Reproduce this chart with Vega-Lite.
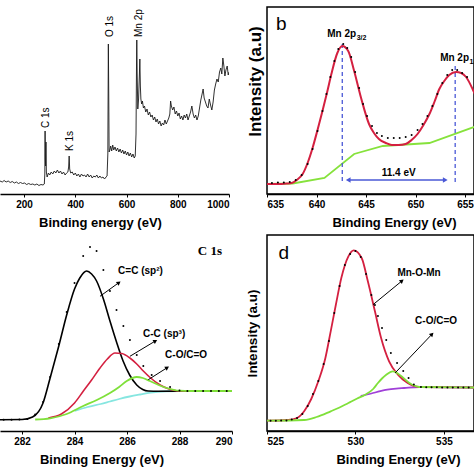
{
  "$schema": "https://vega.github.io/schema/vega-lite/v6.json",
  "autosize": {"type": "pad"},
  "padding": {"left": 0, "top": 6, "right": 0, "bottom": 0},
  "background": "white",
  "bounds": "flush",
  "columns": 2,
  "spacing": {"row": 41, "column": 35},
  "config": {
    "view": {"stroke": null},
    "font": "Liberation Sans",
    "axis": {
      "grid": false,
      "domainColor": "black",
      "domainWidth": 1.5,
      "tickColor": "black",
      "tickSize": 3,
      "labelFont": "Liberation Sans",
      "labelFontWeight": "bold",
      "labelFontSize": 10,
      "labelColor": "black",
      "labelPadding": 2,
      "titleFont": "Liberation Sans",
      "titleFontWeight": "bold",
      "titleFontSize": 13,
      "titleColor": "black",
      "titlePadding": 7
    },
    "text": {"font": "Liberation Sans", "color": "black"}
  },
  "datasets": {
    "aLine": [
      {"E": 106, "I": 13}, {"E": 115, "I": 12}, {"E": 122, "I": 13.5}, {"E": 130, "I": 12}, {"E": 138, "I": 13}, {"E": 146, "I": 11.5},
      {"E": 154, "I": 12.5}, {"E": 162, "I": 11}, {"E": 170, "I": 12}, {"E": 178, "I": 10.5}, {"E": 186, "I": 11.5}, {"E": 194, "I": 10.5},
      {"E": 202, "I": 11}, {"E": 210, "I": 9.5}, {"E": 218, "I": 10.5}, {"E": 226, "I": 9.5}, {"E": 234, "I": 10}, {"E": 242, "I": 9},
      {"E": 250, "I": 10}, {"E": 258, "I": 8.5}, {"E": 266, "I": 9.5}, {"E": 274, "I": 9}, {"E": 279, "I": 10}, {"E": 281, "I": 20},
      {"E": 282, "I": 63}, {"E": 283, "I": 35}, {"E": 284, "I": 28}, {"E": 285.5, "I": 52}, {"E": 287, "I": 22}, {"E": 290, "I": 17},
      {"E": 295, "I": 21}, {"E": 300, "I": 19}, {"E": 306, "I": 22}, {"E": 312, "I": 20}, {"E": 318, "I": 23}, {"E": 324, "I": 21},
      {"E": 330, "I": 24}, {"E": 336, "I": 21}, {"E": 342, "I": 23}, {"E": 348, "I": 20}, {"E": 354, "I": 22}, {"E": 360, "I": 19},
      {"E": 366, "I": 21}, {"E": 371, "I": 22}, {"E": 374, "I": 27}, {"E": 376, "I": 38}, {"E": 378, "I": 25}, {"E": 382, "I": 21},
      {"E": 388, "I": 22}, {"E": 394, "I": 19}, {"E": 400, "I": 21}, {"E": 406, "I": 18}, {"E": 412, "I": 20}, {"E": 418, "I": 17},
      {"E": 424, "I": 20}, {"E": 430, "I": 18}, {"E": 436, "I": 19}, {"E": 442, "I": 17}, {"E": 448, "I": 20}, {"E": 454, "I": 17},
      {"E": 460, "I": 19}, {"E": 466, "I": 16}, {"E": 472, "I": 18}, {"E": 478, "I": 17}, {"E": 484, "I": 19}, {"E": 490, "I": 16},
      {"E": 496, "I": 18}, {"E": 502, "I": 16}, {"E": 508, "I": 17}, {"E": 514, "I": 15}, {"E": 520, "I": 17}, {"E": 524, "I": 18},
      {"E": 527, "I": 40}, {"E": 529, "I": 150}, {"E": 530.5, "I": 100}, {"E": 532, "I": 42}, {"E": 535, "I": 44}, {"E": 538, "I": 48},
      {"E": 542, "I": 43}, {"E": 546, "I": 49}, {"E": 550, "I": 44}, {"E": 555, "I": 47}, {"E": 560, "I": 43}, {"E": 565, "I": 46},
      {"E": 570, "I": 42}, {"E": 575, "I": 45}, {"E": 580, "I": 41}, {"E": 585, "I": 44}, {"E": 590, "I": 40}, {"E": 595, "I": 43},
      {"E": 600, "I": 39}, {"E": 605, "I": 42}, {"E": 610, "I": 38}, {"E": 615, "I": 41}, {"E": 620, "I": 37}, {"E": 625, "I": 40},
      {"E": 630, "I": 36}, {"E": 634, "I": 38}, {"E": 637, "I": 60}, {"E": 639, "I": 130}, {"E": 640, "I": 154}, {"E": 641.5, "I": 120},
      {"E": 644, "I": 85}, {"E": 647, "I": 95}, {"E": 650, "I": 118}, {"E": 652, "I": 135}, {"E": 654, "I": 108}, {"E": 656, "I": 95},
      {"E": 659, "I": 90}, {"E": 662, "I": 93}, {"E": 666, "I": 86}, {"E": 670, "I": 88}, {"E": 675, "I": 82}, {"E": 680, "I": 85},
      {"E": 685, "I": 79}, {"E": 690, "I": 82}, {"E": 695, "I": 77}, {"E": 700, "I": 79}, {"E": 705, "I": 74}, {"E": 710, "I": 77},
      {"E": 715, "I": 72}, {"E": 720, "I": 75}, {"E": 725, "I": 70}, {"E": 730, "I": 73}, {"E": 735, "I": 68}, {"E": 740, "I": 71},
      {"E": 745, "I": 69}, {"E": 750, "I": 74}, {"E": 755, "I": 70}, {"E": 760, "I": 73}, {"E": 765, "I": 76}, {"E": 769, "I": 80},
      {"E": 772, "I": 93}, {"E": 775, "I": 88}, {"E": 780, "I": 84}, {"E": 785, "I": 87}, {"E": 790, "I": 80}, {"E": 795, "I": 83},
      {"E": 800, "I": 78}, {"E": 805, "I": 81}, {"E": 810, "I": 75}, {"E": 815, "I": 78}, {"E": 820, "I": 74}, {"E": 825, "I": 79},
      {"E": 830, "I": 76}, {"E": 835, "I": 80}, {"E": 840, "I": 74}, {"E": 845, "I": 78}, {"E": 850, "I": 82}, {"E": 855, "I": 88},
      {"E": 860, "I": 80}, {"E": 865, "I": 76}, {"E": 870, "I": 79}, {"E": 875, "I": 74}, {"E": 880, "I": 78}, {"E": 885, "I": 86},
      {"E": 890, "I": 94}, {"E": 895, "I": 100}, {"E": 899, "I": 105}, {"E": 903, "I": 96}, {"E": 908, "I": 92}, {"E": 913, "I": 88},
      {"E": 918, "I": 86}, {"E": 923, "I": 95}, {"E": 928, "I": 89}, {"E": 933, "I": 84}, {"E": 938, "I": 92}, {"E": 943, "I": 104},
      {"E": 948, "I": 110}, {"E": 953, "I": 115}, {"E": 958, "I": 112}, {"E": 963, "I": 122}, {"E": 968, "I": 126}, {"E": 972, "I": 120},
      {"E": 976, "I": 136}, {"E": 980, "I": 128}, {"E": 984, "I": 118}, {"E": 988, "I": 124}, {"E": 993, "I": 128}, {"E": 997, "I": 119},
      {"E": 1000, "I": 122}
    ],
    "aLabels": [
      {"E": 284, "I": 66, "t": "C 1s"},
      {"E": 380, "I": 43, "t": "K 1s"},
      {"E": 534, "I": 157, "t": "O 1s"},
      {"E": 649, "I": 157, "t": "Mn 2p"}
    ],
    "bFit": [
      {"E": 635.0, "I": 10}, {"E": 636.0, "I": 10}, {"E": 637.0, "I": 10.5}, {"E": 637.5, "I": 11}, {"E": 638.0, "I": 14},
      {"E": 638.6, "I": 20}, {"E": 639.1, "I": 31}, {"E": 639.6, "I": 46}, {"E": 640.1, "I": 64}, {"E": 640.6, "I": 83},
      {"E": 641.1, "I": 103}, {"E": 641.5, "I": 120}, {"E": 642.1, "I": 141}, {"E": 642.6, "I": 148}, {"E": 643.2, "I": 143},
      {"E": 643.8, "I": 123}, {"E": 644.5, "I": 96}, {"E": 645.3, "I": 70}, {"E": 645.8, "I": 61}, {"E": 646.3, "I": 55},
      {"E": 647.0, "I": 51}, {"E": 647.6, "I": 49}, {"E": 648.3, "I": 49}, {"E": 649.0, "I": 50}, {"E": 649.6, "I": 54},
      {"E": 650.2, "I": 60}, {"E": 650.8, "I": 69}, {"E": 651.4, "I": 80}, {"E": 651.9, "I": 92}, {"E": 652.4, "I": 105},
      {"E": 652.9, "I": 113}, {"E": 653.4, "I": 119}, {"E": 654.1, "I": 122}, {"E": 654.6, "I": 121}, {"E": 655.1, "I": 117},
      {"E": 655.8, "I": 104}, {"E": 656.2, "I": 95}
    ],
    "bBg": [
      {"E": 635.0, "I": 10}, {"E": 637.6, "I": 10.5}, {"E": 640.8, "I": 16}, {"E": 643.8, "I": 40}, {"E": 646.7, "I": 48},
      {"E": 651.4, "I": 51}, {"E": 656.2, "I": 68}
    ],
    "bDots": [
      {"E": 635.5, "I": 11}, {"E": 636.1, "I": 11.5}, {"E": 636.7, "I": 11.5}, {"E": 637.3, "I": 12}, {"E": 637.9, "I": 14},
      {"E": 638.5, "I": 19}, {"E": 639.1, "I": 30}, {"E": 639.6, "I": 45}, {"E": 640.1, "I": 63}, {"E": 640.6, "I": 83},
      {"E": 641.0, "I": 100}, {"E": 641.4, "I": 117}, {"E": 641.8, "I": 133}, {"E": 642.2, "I": 145}, {"E": 642.7, "I": 150},
      {"E": 643.1, "I": 146}, {"E": 643.5, "I": 137}, {"E": 643.9, "I": 122}, {"E": 644.3, "I": 106}, {"E": 644.7, "I": 90},
      {"E": 645.1, "I": 78}, {"E": 645.6, "I": 68}, {"E": 646.1, "I": 61}, {"E": 646.6, "I": 58}, {"E": 647.2, "I": 56},
      {"E": 647.8, "I": 56}, {"E": 648.4, "I": 56}, {"E": 649.0, "I": 57}, {"E": 649.6, "I": 59}, {"E": 650.2, "I": 64},
      {"E": 650.7, "I": 70}, {"E": 651.2, "I": 78}, {"E": 651.7, "I": 88}, {"E": 652.2, "I": 100}, {"E": 652.7, "I": 111},
      {"E": 653.2, "I": 119}, {"E": 653.7, "I": 124}, {"E": 654.2, "I": 124}, {"E": 654.7, "I": 121}, {"E": 655.2, "I": 117}
    ],
    "bDash": [
      {"E": 642.6, "I": 150, "I2": 10.3},
      {"E": 654.0, "I": 128, "I2": 10.3}
    ],
    "bArrow": [
      {"E": 643.2, "E2": 653.0, "I": 14}
    ],
    "bText": [
      {"k": "b", "E": 635.9, "I": 170, "t": "b"},
      {"k": "m1", "E": 644.0, "I": 160, "t": "Mn 2p"},
      {"k": "s1", "E": 644.05, "I": 156.5, "t": "3/2"},
      {"k": "m2", "E": 655.4, "I": 136, "t": "Mn 2p"},
      {"k": "s2", "E": 655.45, "I": 132.5, "t": "1/2"},
      {"k": "ev", "E": 648.3, "I": 21, "t": "11.4 eV"}
    ],
    "cBlack": [
      {"E": 281.16, "I": 11.3}, {"E": 282.0, "I": 11.5}, {"E": 282.4, "I": 14}, {"E": 282.8, "I": 28}, {"E": 283.07, "I": 53},
      {"E": 283.4, "I": 85}, {"E": 283.7, "I": 116}, {"E": 284.0, "I": 142}, {"E": 284.2, "I": 153}, {"E": 284.46, "I": 160},
      {"E": 284.65, "I": 157}, {"E": 284.84, "I": 150}, {"E": 285.1, "I": 132}, {"E": 285.35, "I": 110}, {"E": 285.6, "I": 89},
      {"E": 285.85, "I": 70}, {"E": 286.1, "I": 56}, {"E": 286.37, "I": 46}, {"E": 286.6, "I": 41.5}, {"E": 286.8, "I": 40},
      {"E": 287.2, "I": 39.8}, {"E": 290, "I": 40}
    ],
    "cRed": [
      {"E": 283.0, "I": 13}, {"E": 283.5, "I": 17}, {"E": 284.0, "I": 28}, {"E": 284.33, "I": 39.7}, {"E": 284.65, "I": 51},
      {"E": 284.97, "I": 63}, {"E": 285.25, "I": 72}, {"E": 285.54, "I": 78}, {"E": 285.8, "I": 77.5}, {"E": 286.11, "I": 73},
      {"E": 286.37, "I": 67}, {"E": 286.62, "I": 60}, {"E": 286.9, "I": 53}, {"E": 287.26, "I": 46}, {"E": 287.6, "I": 42},
      {"E": 287.89, "I": 40.3}, {"E": 288.3, "I": 40}, {"E": 290, "I": 40}
    ],
    "cGreen": [
      {"E": 282.5, "I": 11.5}, {"E": 283.07, "I": 12.7}, {"E": 283.7, "I": 17}, {"E": 284.33, "I": 25}, {"E": 284.85, "I": 31},
      {"E": 285.35, "I": 38}, {"E": 285.7, "I": 44}, {"E": 285.99, "I": 50}, {"E": 286.37, "I": 54}, {"E": 286.6, "I": 53},
      {"E": 286.87, "I": 50}, {"E": 287.2, "I": 46}, {"E": 287.51, "I": 43}, {"E": 288.0, "I": 40.3}, {"E": 288.4, "I": 40},
      {"E": 290, "I": 40}
    ],
    "cBg": [
      {"E": 284.0, "I": 20}, {"E": 284.5, "I": 24}, {"E": 285.0, "I": 27}, {"E": 285.35, "I": 29.5}, {"E": 285.7, "I": 32},
      {"E": 286.1, "I": 34.5}, {"E": 286.5, "I": 36.5}, {"E": 286.9, "I": 38.3}, {"E": 287.5, "I": 39.7}, {"E": 288.0, "I": 40},
      {"E": 290, "I": 40}
    ],
    "cDots": [
      {"E": 281.3, "I": 11.3}, {"E": 281.6, "I": 11.3}, {"E": 281.9, "I": 11.4}, {"E": 282.2, "I": 12}, {"E": 282.5, "I": 16.5},
      {"E": 282.8, "I": 29}, {"E": 283.07, "I": 54}, {"E": 283.4, "I": 87}, {"E": 283.7, "I": 119}, {"E": 284.0, "I": 148},
      {"E": 284.33, "I": 175}, {"E": 284.59, "I": 184}, {"E": 284.84, "I": 180}, {"E": 285.1, "I": 161}, {"E": 285.35, "I": 140},
      {"E": 285.6, "I": 121}, {"E": 285.86, "I": 105}, {"E": 286.11, "I": 91}, {"E": 286.37, "I": 76}, {"E": 286.62, "I": 65},
      {"E": 286.94, "I": 56}, {"E": 287.26, "I": 50}, {"E": 287.64, "I": 44}, {"E": 288.0, "I": 40.5}, {"E": 288.3, "I": 40},
      {"E": 288.6, "I": 40}, {"E": 288.9, "I": 40}, {"E": 289.2, "I": 40}, {"E": 289.5, "I": 40}, {"E": 289.8, "I": 40}
    ],
    "cArrows": [
      {"k": "cc", "E": 284.97, "I": 134.7, "E2": 285.67, "I2": 148},
      {"k": "ccs", "E": 286.11, "I": 74.7, "E2": 287.06, "I2": 89.7},
      {"k": "co", "E": 286.81, "I": 51.3, "E2": 287.51, "I2": 63}
    ],
    "cText": [
      {"k": "l", "E": 285.66, "I": 160, "t": "C=C (sp²)"},
      {"k": "l", "E": 286.61, "I": 97, "t": "C-C (sp³)"},
      {"k": "l", "E": 287.45, "I": 76.3, "t": "C-O/C=O"},
      {"k": "h", "E": 289.62, "I": 180, "t": "C 1s"}
    ],
    "dRed": [
      {"E": 525.0, "I": 10.3}, {"E": 526.2, "I": 11}, {"E": 526.7, "I": 13}, {"E": 527.1, "I": 19.7}, {"E": 527.5, "I": 32},
      {"E": 527.9, "I": 49.7}, {"E": 528.3, "I": 73}, {"E": 528.6, "I": 99.7}, {"E": 528.9, "I": 127}, {"E": 529.2, "I": 153},
      {"E": 529.6, "I": 174.7}, {"E": 529.9, "I": 180.7}, {"E": 530.35, "I": 173}, {"E": 530.7, "I": 149.7}, {"E": 531.1, "I": 119.7},
      {"E": 531.45, "I": 93}, {"E": 531.9, "I": 69.7}, {"E": 532.4, "I": 56.3}, {"E": 532.95, "I": 48}, {"E": 533.6, "I": 44},
      {"E": 536.8, "I": 43.5}
    ],
    "dGreen": [
      {"E": 525.0, "I": 10.3}, {"E": 527.1, "I": 11}, {"E": 527.8, "I": 14}, {"E": 528.6, "I": 19.7}, {"E": 529.1, "I": 23.5},
      {"E": 529.6, "I": 28}, {"E": 530.1, "I": 32.5}, {"E": 530.55, "I": 36.3}, {"E": 531.0, "I": 42}, {"E": 531.27, "I": 48},
      {"E": 531.5, "I": 52.5}, {"E": 531.74, "I": 56.3}, {"E": 532.1, "I": 59.7}, {"E": 532.35, "I": 58}, {"E": 532.6, "I": 54.7},
      {"E": 533.05, "I": 48}, {"E": 533.6, "I": 44}, {"E": 536.8, "I": 43.5}
    ],
    "dBg": [
      {"E": 530.3, "I": 35}, {"E": 530.9, "I": 37.5}, {"E": 531.4, "I": 39.8}, {"E": 531.8, "I": 41.3}, {"E": 532.3, "I": 42.4},
      {"E": 532.75, "I": 43}, {"E": 533.6, "I": 44}, {"E": 536.8, "I": 43.5}
    ],
    "dDots": [
      {"E": 525.2, "I": 10.3}, {"E": 525.5, "I": 10.3}, {"E": 525.8, "I": 10.4}, {"E": 526.1, "I": 10.6}, {"E": 526.4, "I": 11.5},
      {"E": 526.7, "I": 13}, {"E": 527.0, "I": 17}, {"E": 527.3, "I": 25}, {"E": 527.6, "I": 37}, {"E": 527.9, "I": 50},
      {"E": 528.2, "I": 67}, {"E": 528.5, "I": 90}, {"E": 528.8, "I": 118}, {"E": 529.1, "I": 145}, {"E": 529.4, "I": 166},
      {"E": 529.7, "I": 177}, {"E": 530.0, "I": 180}, {"E": 530.3, "I": 174}, {"E": 530.6, "I": 157}, {"E": 530.9, "I": 136},
      {"E": 531.1, "I": 126}, {"E": 531.27, "I": 115}, {"E": 531.5, "I": 103}, {"E": 531.74, "I": 91}, {"E": 532.0, "I": 78},
      {"E": 532.35, "I": 68}, {"E": 532.7, "I": 60}, {"E": 533.0, "I": 53}, {"E": 533.3, "I": 46.5}, {"E": 533.7, "I": 44},
      {"E": 534.0, "I": 43.8}, {"E": 534.3, "I": 43.7}, {"E": 534.6, "I": 43.7}, {"E": 534.9, "I": 43.6}, {"E": 535.2, "I": 43.6},
      {"E": 535.5, "I": 43.6}, {"E": 535.8, "I": 43.5}, {"E": 536.1, "I": 43.5}, {"E": 536.4, "I": 43.5}
    ],
    "dArrows": [
      {"k": "mn", "E": 530.99, "I": 126.3, "E2": 532.6, "I2": 149.7},
      {"k": "co", "E": 532.24, "I": 58, "E2": 534.3, "I2": 96.3}
    ],
    "dText": [
      {"k": "d", "E": 525.65, "I": 178, "t": "d"},
      {"k": "l", "E": 532.37, "I": 158, "t": "Mn-O-Mn"},
      {"k": "l", "E": 533.37, "I": 110, "t": "C-O/C=O"}
    ]
  },
  "concat": [
    {
      "width": 229,
      "height": 187,
      "encoding": {
        "x": {"field": "E", "type": "quantitative", "scale": {"domain": [106, 1000], "nice": false, "zero": false},
              "axis": {"values": [200, 400, 600, 800, 1000], "format": "d", "title": "Binding energy (eV)", "titleX": 100}},
        "y": {"field": "I", "type": "quantitative", "scale": {"domain": [0, 187], "nice": false}, "axis": null}
      },
      "layer": [
        {"data": {"name": "aLine"}, "mark": {"type": "line", "color": "#1a1a1a", "strokeWidth": 0.9, "clip": true}},
        {"data": {"name": "aLabels"}, "mark": {"type": "text", "angle": 270, "align": "left", "baseline": "middle", "fontSize": 10},
         "encoding": {"text": {"field": "t"}}},
        {"mark": {"type": "rule", "color": "black", "strokeWidth": 1.5}, "encoding": {"x": {"datum": 1000}, "y": null}}
      ]
    },
    {
      "width": 207,
      "height": 187,
      "view": {"stroke": "black", "strokeWidth": 1.5},
      "encoding": {
        "x": {"field": "E", "type": "quantitative", "scale": {"domain": [635, 655.9], "nice": false, "zero": false},
              "axis": {"values": [635, 640, 645, 650, 655], "title": "Binding Energy (eV)", "titleX": 127}},
        "y": {"field": "I", "type": "quantitative", "scale": {"domain": [0, 187], "nice": false},
              "axis": {"title": "Intensity (a.u)", "labels": false, "ticks": false, "domain": false, "titleFontSize": 17,
                       "titleX": -12, "titleY": 74, "titleAngle": 270, "titleAlign": "center", "titleBaseline": "middle"}}
      },
      "layer": [
        {"data": {"name": "bBg"}, "mark": {"type": "line", "color": "#86e23c", "strokeWidth": 1.8, "clip": true}},
        {"data": {"name": "bDash"}, "mark": {"type": "rule", "color": "#4a58d6", "strokeWidth": 1.3, "strokeDash": [4, 3]},
         "encoding": {"y2": {"field": "I2"}}},
        {"data": {"name": "bArrow"}, "mark": {"type": "rule", "color": "#4a58d6", "strokeWidth": 1.5},
         "encoding": {"x2": {"field": "E2"}}},
        {"data": {"name": "bArrow"}, "mark": {"type": "point", "shape": "triangle-left", "filled": true, "color": "#4a58d6", "size": 30, "opacity": 1}},
        {"data": {"name": "bArrow"}, "mark": {"type": "point", "shape": "triangle-right", "filled": true, "color": "#4a58d6", "size": 30, "opacity": 1},
         "encoding": {"x": {"field": "E2", "type": "quantitative"}}},
        {"data": {"name": "bFit"}, "mark": {"type": "line", "color": "#d42040", "strokeWidth": 2, "interpolate": "monotone", "clip": true}},
        {"data": {"name": "bDots"}, "mark": {"type": "point", "filled": true, "color": "black", "size": 4, "opacity": 1, "clip": true}},
        {"data": {"name": "bText"}, "transform": [{"filter": "datum.k == 'b'"}],
         "mark": {"type": "text", "align": "left", "baseline": "middle", "fontSize": 19}, "encoding": {"text": {"field": "t"}}},
        {"data": {"name": "bText"}, "transform": [{"filter": "datum.k == 'm1' || datum.k == 'm2'"}],
         "mark": {"type": "text", "align": "right", "baseline": "middle", "fontSize": 10, "fontWeight": "bold"}, "encoding": {"text": {"field": "t"}}},
        {"data": {"name": "bText"}, "transform": [{"filter": "datum.k == 's1' || datum.k == 's2'"}],
         "mark": {"type": "text", "align": "left", "baseline": "middle", "fontSize": 7, "fontWeight": "bold"}, "encoding": {"text": {"field": "t"}}},
        {"data": {"name": "bText"}, "transform": [{"filter": "datum.k == 'ev'"}],
         "mark": {"type": "text", "align": "center", "baseline": "middle", "fontSize": 10, "fontWeight": "bold"}, "encoding": {"text": {"field": "t"}}}
      ]
    },
    {
      "width": 232,
      "height": 196,
      "encoding": {
        "x": {"field": "E", "type": "quantitative", "scale": {"domain": [281.16, 290], "nice": false, "zero": false},
              "axis": {"values": [282, 284, 286, 288, 290], "title": "Binding Energy (eV)", "titleX": 101.5}},
        "y": {"field": "I", "type": "quantitative", "scale": {"domain": [0, 196], "nice": false}, "axis": null}
      },
      "layer": [
        {"data": {"name": "cBg"}, "mark": {"type": "line", "color": "#86e6e0", "strokeWidth": 1.8, "interpolate": "monotone", "clip": true}},
        {"data": {"name": "cBlack"}, "mark": {"type": "line", "color": "black", "strokeWidth": 1.6, "interpolate": "monotone", "clip": true}},
        {"data": {"name": "cRed"}, "mark": {"type": "line", "color": "#d42040", "strokeWidth": 1.6, "interpolate": "monotone", "clip": true}},
        {"data": {"name": "cGreen"}, "mark": {"type": "line", "color": "#7fe03a", "strokeWidth": 1.8, "interpolate": "monotone", "clip": true}},
        {"data": {"name": "cDots"}, "mark": {"type": "point", "filled": true, "color": "black", "size": 4, "opacity": 1, "clip": true}},
        {"data": {"name": "cArrows"}, "mark": {"type": "rule", "color": "black", "strokeWidth": 1},
         "encoding": {"x2": {"field": "E2"}, "y2": {"field": "I2"}}},
        {"data": {"name": "cArrows"}, "transform": [{"filter": "datum.k == 'cc'"}],
         "mark": {"type": "point", "shape": "triangle", "angle": 54, "filled": true, "color": "black", "size": 22, "opacity": 1},
         "encoding": {"x": {"field": "E2", "type": "quantitative"}, "y": {"field": "I2", "type": "quantitative"}}},
        {"data": {"name": "cArrows"}, "transform": [{"filter": "datum.k == 'ccs'"}],
         "mark": {"type": "point", "shape": "triangle", "angle": 59, "filled": true, "color": "black", "size": 22, "opacity": 1},
         "encoding": {"x": {"field": "E2", "type": "quantitative"}, "y": {"field": "I2", "type": "quantitative"}}},
        {"data": {"name": "cArrows"}, "transform": [{"filter": "datum.k == 'co'"}],
         "mark": {"type": "point", "shape": "triangle", "angle": 58, "filled": true, "color": "black", "size": 22, "opacity": 1},
         "encoding": {"x": {"field": "E2", "type": "quantitative"}, "y": {"field": "I2", "type": "quantitative"}}},
        {"data": {"name": "cText"}, "transform": [{"filter": "datum.k == 'l'"}],
         "mark": {"type": "text", "align": "left", "baseline": "middle", "fontSize": 10, "fontWeight": "bold"}, "encoding": {"text": {"field": "t"}}},
        {"data": {"name": "cText"}, "transform": [{"filter": "datum.k == 'h'"}],
         "mark": {"type": "text", "align": "right", "baseline": "middle", "fontSize": 13, "fontWeight": "bold", "font": "Liberation Serif"}, "encoding": {"text": {"field": "t"}}},
        {"mark": {"type": "rule", "color": "black", "strokeWidth": 1.5}, "encoding": {"x": {"datum": 290}, "y": null}},
        {"mark": {"type": "rule", "color": "black", "strokeWidth": 1.5}, "encoding": {"y": {"datum": 196}, "x": null}}
      ]
    },
    {
      "width": 207,
      "height": 196,
      "view": {"stroke": "black", "strokeWidth": 1.5},
      "encoding": {
        "x": {"field": "E", "type": "quantitative", "scale": {"domain": [525, 536.7], "nice": false, "zero": false},
              "axis": {"values": [525, 530, 535], "title": "Binding Energy (eV)", "titleX": 131}},
        "y": {"field": "I", "type": "quantitative", "scale": {"domain": [0, 196], "nice": false},
              "axis": {"title": "Intensity (a.u)", "labels": false, "ticks": false, "domain": false, "titleFontSize": 13.5,
                       "titleX": -15, "titleY": 98, "titleAngle": 270, "titleAlign": "center", "titleBaseline": "middle"}}
      },
      "layer": [
        {"data": {"name": "dBg"}, "mark": {"type": "line", "color": "#a040d8", "strokeWidth": 1.8, "interpolate": "monotone", "clip": true}},
        {"data": {"name": "dRed"}, "mark": {"type": "line", "color": "#d42040", "strokeWidth": 1.8, "interpolate": "monotone", "clip": true}},
        {"data": {"name": "dGreen"}, "mark": {"type": "line", "color": "#7fe03a", "strokeWidth": 1.8, "interpolate": "monotone", "clip": true}},
        {"data": {"name": "dDots"}, "mark": {"type": "point", "filled": true, "color": "black", "size": 4, "opacity": 1, "clip": true}},
        {"data": {"name": "dArrows"}, "mark": {"type": "rule", "color": "black", "strokeWidth": 1},
         "encoding": {"x2": {"field": "E2"}, "y2": {"field": "I2"}}},
        {"data": {"name": "dArrows"}, "transform": [{"filter": "datum.k == 'mn'"}],
         "mark": {"type": "point", "shape": "triangle", "angle": 51, "filled": true, "color": "black", "size": 22, "opacity": 1},
         "encoding": {"x": {"field": "E2", "type": "quantitative"}, "y": {"field": "I2", "type": "quantitative"}}},
        {"data": {"name": "dArrows"}, "transform": [{"filter": "datum.k == 'co'"}],
         "mark": {"type": "point", "shape": "triangle", "angle": 44, "filled": true, "color": "black", "size": 22, "opacity": 1},
         "encoding": {"x": {"field": "E2", "type": "quantitative"}, "y": {"field": "I2", "type": "quantitative"}}},
        {"data": {"name": "dText"}, "transform": [{"filter": "datum.k == 'd'"}],
         "mark": {"type": "text", "align": "left", "baseline": "middle", "fontSize": 19}, "encoding": {"text": {"field": "t"}}},
        {"data": {"name": "dText"}, "transform": [{"filter": "datum.k == 'l'"}],
         "mark": {"type": "text", "align": "left", "baseline": "middle", "fontSize": 10, "fontWeight": "bold"}, "encoding": {"text": {"field": "t"}}}
      ]
    }
  ]
}
